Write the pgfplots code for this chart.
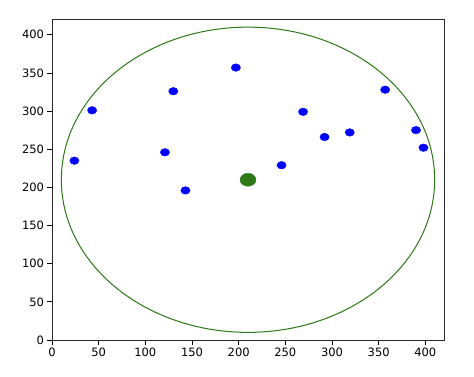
\documentclass[border=0pt]{standalone}
\usepackage{pgfplots}
\pgfplotsset{compat=1.18}
\usepackage{fontspec}
\setmainfont{DejaVu Sans}
\definecolor{dgreen}{RGB}{45,120,25}
\begin{document}
\begin{tikzpicture}
\begin{axis}[
  scale only axis, width=392bp, height=320.5bp,
  xmin=0, xmax=420, ymin=0, ymax=420,
  xtick={0,50,...,400}, ytick={0,50,...,400},
  tick align=outside, tick pos=left,
  major tick length=4.5bp,
  tick style={black, line width=0.8bp},
  axis line style={line width=0.8bp, black!85},
  ticklabel style={font=\fontsize{11.5bp}{13bp}\selectfont},
  /pgf/number format/assume math mode=true,
]
\draw[dgreen, line width=1bp] (axis cs:210,210) ellipse [x radius=200, y radius=200];
\addplot[only marks, mark=*, mark size=3.8bp, blue, mark options={xscale=1.22, draw=blue, fill=blue}] coordinates {
(24,235) (43,301) (130,326) (121,246) (143,196) (197,357) (357,328)
(269,299) (292,266) (319,272) (390,275) (398,252) (246,229)
};
\addplot[only marks, mark=*, mark size=6.5bp, dgreen, mark options={xscale=1.22, draw=dgreen, fill=dgreen}] coordinates {
(210,210)
};
\end{axis}
\path ([shift={(-52bp,-37bp)}]current axis.south west) rectangle ([shift={(30bp,19.5bp)}]current axis.north east);
\end{tikzpicture}
\end{document}
